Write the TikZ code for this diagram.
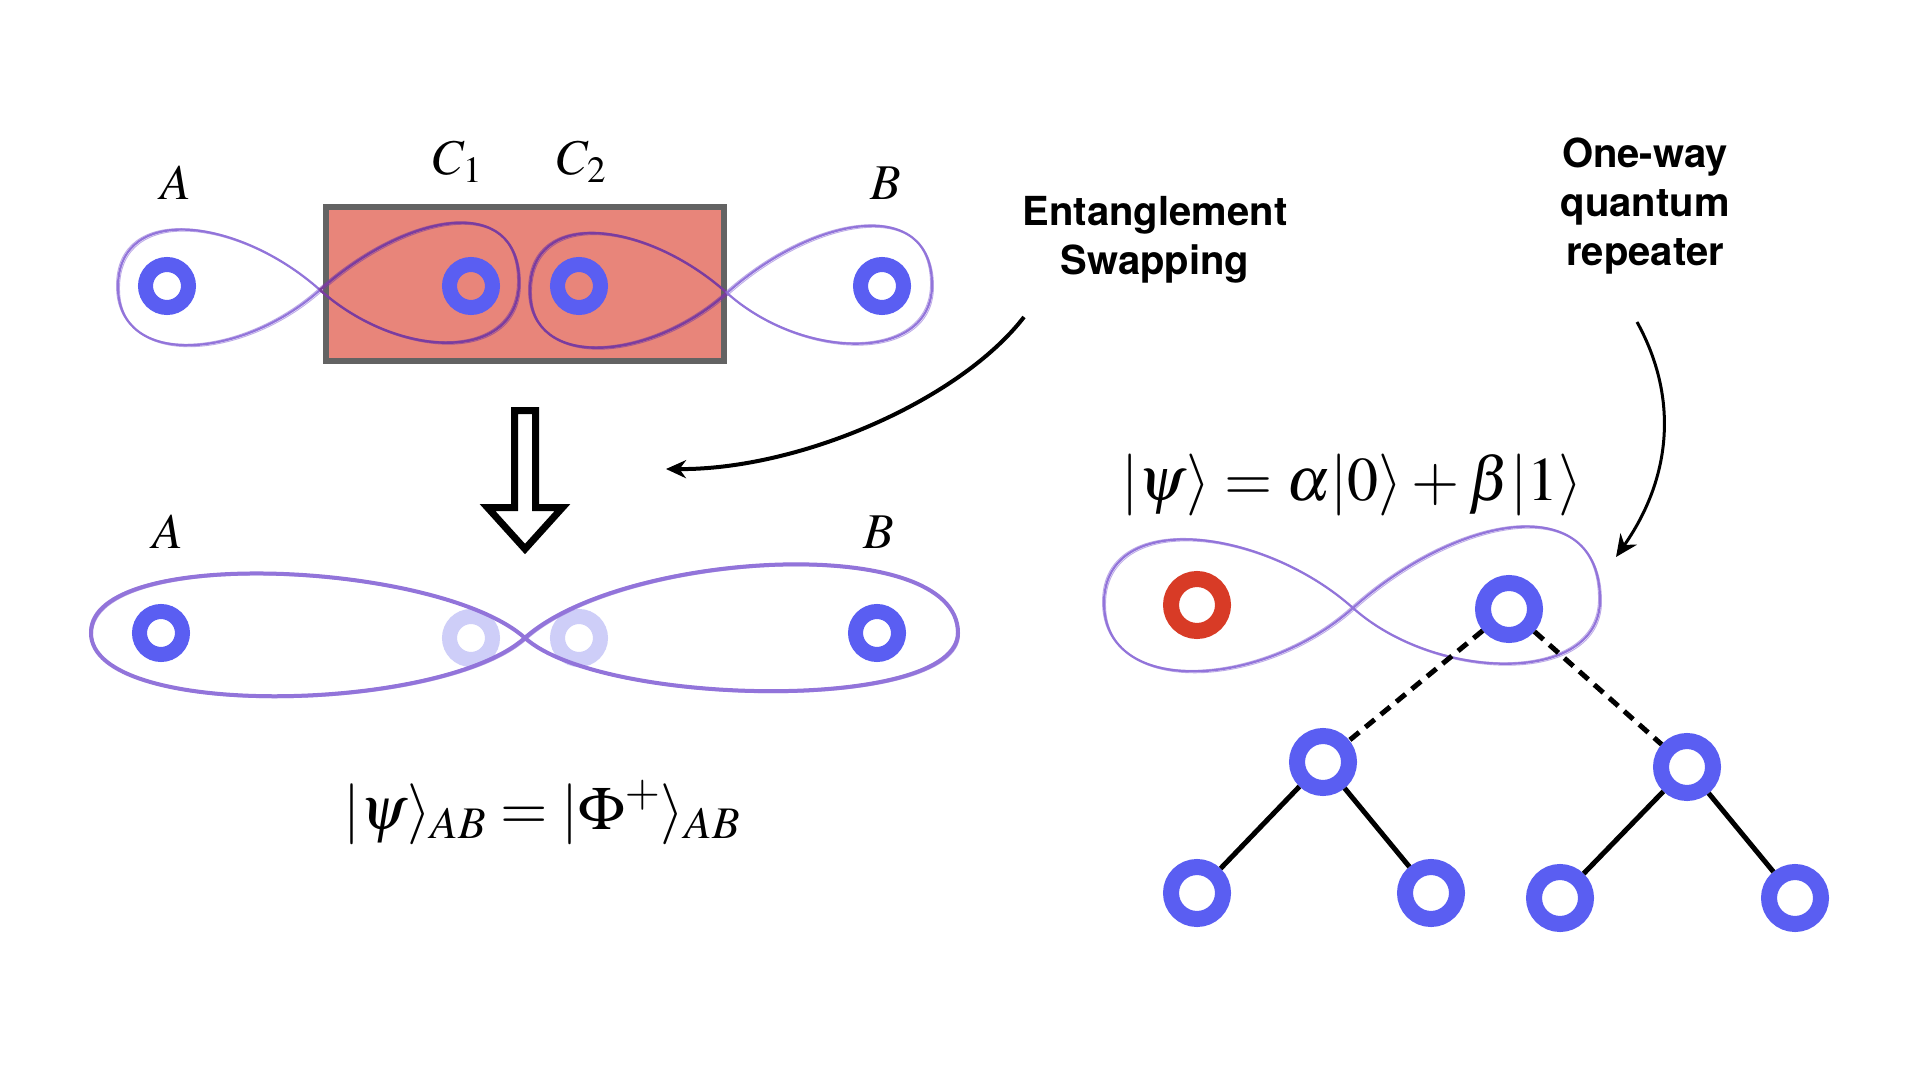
\documentclass[tikz,border=0pt]{standalone}
\usepackage{mathptmx}
\usepackage[no-math]{fontspec}
\newfontfamily\labelfont{TeX Gyre Heros}
\usetikzlibrary{arrows.meta}
\definecolor{ringblue}{RGB}{90,94,242}
\definecolor{ringred}{RGB}{216,59,38}
\definecolor{fadeblue}{RGB}{206,206,248}
\definecolor{loopviolet}{RGB}{146,116,218}
\definecolor{loopdark}{RGB}{122,60,160}
\definecolor{swapfill}{RGB}{232,133,122}
\definecolor{swapborder}{RGB}{99,99,99}
% lobe of a figure eight: tip (#1,#2), far end (#3,#4), upper/lower half-height #5/#6, style #7
\newcommand{\lobe}[7]{\draw[#7] (#1,#2) .. controls ({#1+sign(#3-#1)*1.4*#5},{#2-1.25*#5}) and ({#3},{#4-1.45*#5}) .. (#3,#4) .. controls ({#3},{#4+1.45*#6}) and ({#1+sign(#3-#1)*1.4*#6},{#2+1.25*#6}) .. (#1,#2);}
\newcommand{\sketchlobe}[7]{%
  \lobe{#1}{#2}{#3}{#4}{#5}{#6}{#7}%
  \lobe{#1}{#2}{#3}{#4}{#5}{#6}{#7,line width=0.45pt,opacity=0.6,shift={(1.5,1.5)}}%
  \lobe{#1}{#2}{#3}{#4}{#5}{#6}{#7,line width=0.45pt,opacity=0.6,shift={(-1.5,-1)}}}
\begin{document}
\begin{tikzpicture}[x=0.5pt,y=-0.5pt,
  qubit/.style={circle, draw=ringblue, line width=7.5pt, minimum size=21.5pt, inner sep=0pt},
  fadequbit/.style={qubit, draw=fadeblue},
  bigqubit/.style={circle, draw=ringblue, line width=8pt, minimum size=26pt, inner sep=0pt},
  redqubit/.style={bigqubit, draw=ringred},
  lab/.style={inner sep=0pt, font=\fontsize{25pt}{30pt}\selectfont},
  eqn/.style={inner sep=0pt, font=\fontsize{31pt}{36pt}\selectfont},
  caption/.style={align=center, inner sep=0pt, font=\labelfont\bfseries\fontsize{20pt}{24.5pt}\selectfont},
  toploop/.style={draw=loopviolet, line width=1.1pt},
  innerloop/.style={draw=loopdark, line width=1.2pt},
  bigloop/.style={draw=loopviolet, line width=2pt},
  curvearrow/.style={draw=black, line width=2pt, -{Stealth[length=10pt,width=9pt]}},
  thinarrow/.style={draw=black, line width=1.5pt, -{Stealth[length=11pt,width=10pt]}},
  treeedge/.style={draw=black, line width=2.5pt},
  dashededge/.style={treeedge, dash pattern=on 6pt off 4pt},
  hollowarrow/.style={draw=black, fill=white, line width=3.5pt, miter limit=10}
]
\fill[white] (0,0) rectangle (1920,1080);
\useasboundingbox (0,0) rectangle (1920,1080);

% ---------- top: before swapping ----------
\fill[swapfill] (326,207) rectangle (724,361);
\draw[swapborder, line width=3.25pt] (326,207) rectangle (724,361);
\sketchlobe{320}{290}{118}{287}{58}{56}{toploop}
\sketchlobe{320}{290}{519}{282}{62}{56}{innerloop}
\sketchlobe{727}{293}{530}{291}{58}{55}{innerloop}
\sketchlobe{727}{293}{932}{285}{62}{54}{toploop}

\node[qubit] (tA) at (167,286) {};
\node[qubit] (tC1) at (471,286) {};
\node[qubit] (tC2) at (579,286) {};
\node[qubit] (tB) at (882,286) {};

\node[lab, anchor=base] (labA) at (176,200) {$A$};
\node[lab, anchor=base] (labB) at (886,200) {$B$};
\node[lab, anchor=base] (labC1) at (458,175) {$C_1$};
\node[lab, anchor=base] (labC2) at (582,175) {$C_2$};

% ---------- hollow arrow ----------
\draw[hollowarrow] (514.5,410.5) -- (535.5,410.5) -- (535.5,507.5) -- (562.5,507.5) -- (525,549) -- (487.5,507.5) -- (514.5,507.5) -- cycle;

% ---------- bottom: after swapping ----------
\node[fadequbit] (fC1) at (471,638) {};
\node[fadequbit] (fC2) at (579,638) {};
\sketchlobe{525}{638}{91}{633}{61}{60}{bigloop}
\sketchlobe{525}{638}{958}{633}{70}{55}{bigloop}
\node[qubit] (bA) at (161,633) {};
\node[qubit] (bB) at (877,633) {};
\node[lab, anchor=base] (labA2) at (168,548) {$A$};
\node[lab, anchor=base] (labB2) at (879,548) {$B$};
\node[eqn, anchor=base, font=\fontsize{30.5pt}{36pt}\selectfont] (eqAB) at (542,829) {$|\psi\rangle_{AB} = |\Phi^{+}\rangle_{AB}$};

% ---------- captions and arrows ----------
\node[caption] (swap) at (1155,240) {Entanglement\\Swapping};
\node[caption] (oneway) at (1645,206) {One-way\\quantum\\repeater};
\coordinate (swapstart) at (1024,317);
\coordinate (swapend) at (666,469);
\draw[curvearrow] (swapstart) .. controls (960,400) and (800,470) .. (swapend);
\coordinate (repstart) at (1637,322);
\coordinate (repend) at (1616,557);
\draw[thinarrow] (repstart) .. controls (1680,400) and (1670,480) .. (repend);

% ---------- right: one-way repeater ----------
\node[eqn, anchor=base] (eqpsi) at (1352,500) {$|\psi\rangle = \alpha|0\rangle + \beta|1\rangle$};
\sketchlobe{1353}{608}{1104}{603}{65}{65}{bigloop,line width=1.1pt}
\sketchlobe{1353}{608}{1600}{600}{76}{59}{bigloop,line width=1.1pt}

\node[redqubit] (q0) at (1197,605) {};
\node[bigqubit] (q1) at (1509,609) {};
\node[bigqubit] (m1) at (1323,762) {};
\node[bigqubit] (m2) at (1687,767) {};
\node[bigqubit] (l1) at (1197,893) {};
\node[bigqubit] (l2) at (1431,893) {};
\node[bigqubit] (l3) at (1560,898) {};
\node[bigqubit] (l4) at (1795,898) {};
\draw[dashededge] (q1) -- (m1);
\draw[dashededge] (q1) -- (m2);
\draw[treeedge] (m1) -- (l1);
\draw[treeedge] (m1) -- (l2);
\draw[treeedge] (m2) -- (l3);
\draw[treeedge] (m2) -- (l4);
\end{tikzpicture}
\end{document}
